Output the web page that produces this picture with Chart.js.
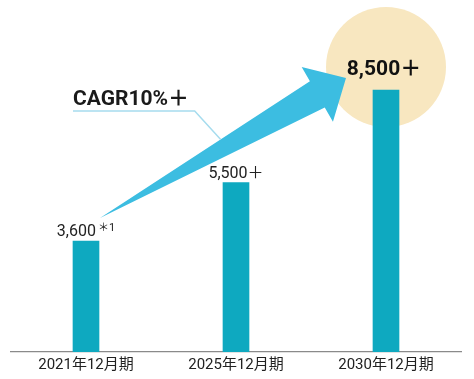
<!DOCTYPE html>
<html><head><meta charset="utf-8">
<script src="https://cdn.jsdelivr.net/npm/chart.js@4"></script>
<style>html,body{margin:0;padding:0;background:#fff}</style>
</head><body>
<canvas id="c" width="474" height="379" style="width:474px;height:379px;display:block"></canvas>
<script>
const categories = ["2021年12月期", "2025年12月期", "2030年12月期"];
const values = [3600, 5500, 8500];
const valueLabels = ["3,600", "5,500＋", "8,500＋"];
const valueNotes = ["＊1", "", ""];
const growthLabel = "CAGR10%＋";
const yMax = 11000;

const FONT = "Roboto, 'Noto Sans CJK JP', sans-serif";

const deco = {
  id: 'deco',
  beforeDatasetsDraw(chart) {
    const ctx = chart.ctx, xs = chart.scales.x, ys = chart.scales.y;
    const cx = xs.getPixelForValue(2), cy = ys.getPixelForValue(values[2]) - 23;
    ctx.save();
    ctx.fillStyle = '#f8e7c0';
    ctx.beginPath(); ctx.arc(cx, cy, 60, 0, Math.PI * 2); ctx.fill();
    ctx.restore();
  },
  afterDatasetsDraw(chart) {
    const ctx = chart.ctx, xs = chart.scales.x, ys = chart.scales.y;
    // arrow
    const T = [xs.getPixelForValue(0) + 14, ys.getPixelForValue(values[0]) - 23];
    const P = [xs.getPixelForValue(2) - 40, ys.getPixelForValue(values[2]) - 12];
    const dx = P[0] - T[0], dy = P[1] - T[1], L = Math.hypot(dx, dy);
    const u = [dx / L, dy / L], n = [-u[1], u[0]];
    const headLen = 33, headHalf = 31.6, shaftHalf = 15;
    const B = [P[0] - headLen * u[0], P[1] - headLen * u[1]];
    const pt = (s) => [B[0] + s * n[0], B[1] + s * n[1]];
    const up = pt(-shaftHalf), lo = pt(shaftHalf), b1 = pt(-headHalf), b2 = pt(headHalf);
    ctx.save();
    ctx.fillStyle = '#3cbde1';
    ctx.beginPath();
    ctx.moveTo(T[0], T[1]);
    ctx.lineTo(up[0], up[1]);
    ctx.lineTo(b1[0], b1[1]);
    ctx.lineTo(P[0], P[1]);
    ctx.lineTo(b2[0], b2[1]);
    ctx.lineTo(lo[0], lo[1]);
    ctx.closePath();
    ctx.fill();

    // CAGR leader line
    const t = 0.575;
    const E = [T[0] + t * (up[0] - T[0]), T[1] + t * (up[1] - T[1])];
    const lx0 = xs.getPixelForValue(0) - 13;
    ctx.strokeStyle = '#a6dcee';
    ctx.lineWidth = 1.5;
    ctx.beginPath();
    ctx.moveTo(lx0, 111);
    ctx.lineTo(E[0] - 26, 111);
    ctx.lineTo(E[0], E[1]);
    ctx.stroke();

    ctx.fillStyle = '#1a1a1a';
    ctx.font = "bold 21px " + FONT;
    ctx.textAlign = 'left';
    ctx.textBaseline = 'alphabetic';
    ctx.fillText(growthLabel, lx0, 105);

    // value labels
    values.forEach((v, i) => {
      const x = xs.getPixelForValue(i), top = ys.getPixelForValue(v);
      ctx.textBaseline = 'alphabetic';
      if (i === 2) {
        ctx.font = "bold 21px " + FONT;
        ctx.textAlign = 'center';
        ctx.fillStyle = '#111';
        ctx.fillText(valueLabels[i], x - 2, top - 15);
      } else {
        ctx.font = "16px " + FONT;
        ctx.fillStyle = '#222';
        const main = valueLabels[i], note = valueNotes[i];
        const wm = ctx.measureText(main).width;
        ctx.font = "11px " + FONT;
        const wn = note ? ctx.measureText(note).width + 2 : 0;
        const x0 = x - (wm + wn) / 2;
        ctx.font = "16px " + FONT;
        ctx.textAlign = 'left';
        ctx.fillText(main, x0, top - 5);
        if (note) {
          ctx.font = "11px " + FONT;
          ctx.fillText(note, x0 + wm + 2, top - 10);
        }
      }
    });
    ctx.restore();
  }
};

new Chart(document.getElementById('c'), {
  type: 'bar',
  data: {
    labels: categories,
    datasets: [{ data: values, backgroundColor: '#0ea9c0', barThickness: 26 }]
  },
  options: {
    responsive: false,
    animation: false,
    layout: { padding: { left: 11, right: 13, top: 13, bottom: 0 } },
    plugins: { legend: { display: false }, tooltip: { enabled: false } },
    scales: {
      x: {
        grid: { display: false, drawTicks: false, tickLength: 0 },
        border: { display: true, color: '#8a8a8a', width: 1.2 },
        ticks: { color: '#222', font: { size: 15, family: FONT, lineHeight: 1.0 }, padding: 6 }
      },
      y: { display: false, min: 0, max: yMax }
    }
  },
  plugins: [deco]
});
</script>
</body></html>
